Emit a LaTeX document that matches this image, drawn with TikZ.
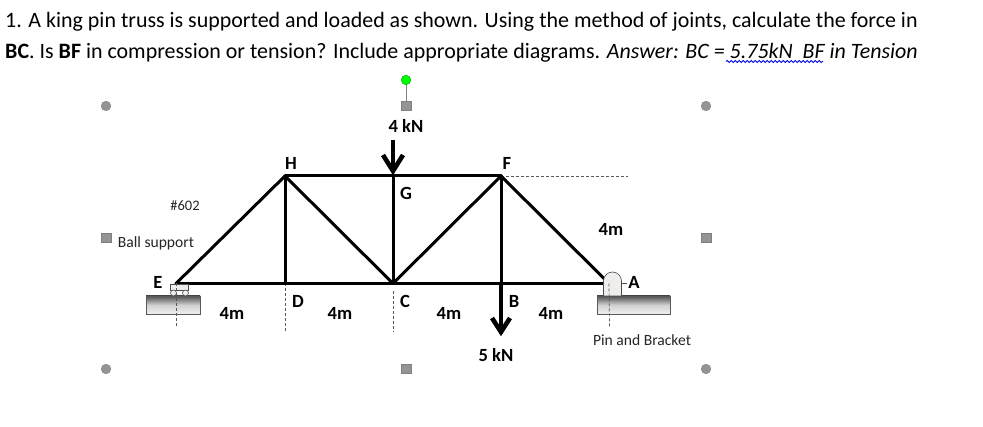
\documentclass[tikz,border=0pt]{standalone}
\usepackage{fontspec}
\setmainfont{Carlito}
\usetikzlibrary{decorations.pathmorphing}
\tikzset{
  member/.style={line width=3pt,line cap=round,line join=round},
  loadarrow/.style={line width=4.6pt,line join=miter},
  guide/.style={densely dashed,line width=0.7pt,black!65},
  handlecirc/.style={circle,fill=black!42,draw=black!50,line width=0.5pt,minimum size=9.5pt,inner sep=0pt},
  handlebox/.style={rectangle,fill=black!42,draw=black!50,line width=0.5pt,minimum size=9.5pt,inner sep=0pt},
  basebox/.style={draw=black!65,line width=0.7pt,top color=black!68,bottom color=black!6,middle color=black!18},
  partbox/.style={draw=black!70,line width=0.6pt,fill=yellow!8!black!8},
  headline/.style={anchor=base west,inner sep=0pt,font=\fontsize{21.95}{24}\selectfont},
  jointlabel/.style={inner sep=0pt,font=\fontsize{18.6}{20}\selectfont\bfseries},
  smalllabel/.style={inner sep=0pt,black!85,font=\fontsize{15.6}{17}\selectfont},
}
\begin{document}
\begin{tikzpicture}[x=1pt,y=-1pt]
\useasboundingbox[fill=white] (0,0) rectangle (983,427);
\draw node[headline] (lineone) at (5,27.5) {1. A king pin truss is supported and loaded as shown. Using the method of joints, calculate the force in};
\draw node[headline] (linetwo) at (5,58.5) {\textbf{BC}. Is \textbf{BF} in compression or tension? Include appropriate diagrams. \textit{Answer: BC = 5.75kN\ \ BF in Tension}};
\coordinate (waveL) at (726,61.5);
\coordinate (waveR) at (823,61.5);
\draw[blue!90!black,line width=0.8pt,decorate,decoration={snake,amplitude=1.1pt,segment length=4pt}] (waveL)--(waveR);
\coordinate (E) at (176,283.5);
\coordinate (D) at (285,283.5);
\coordinate (C) at (393,283.5);
\coordinate (B) at (501,283.5);
\coordinate (A) at (609,283.5);
\coordinate (H) at (285,176);
\coordinate (G) at (393,176);
\coordinate (F) at (501,176);
\coordinate (Fend) at (628,176);
\coordinate (Eend) at (176,326);
\coordinate (Dend) at (285,332);
\coordinate (Ctop) at (393,291);
\coordinate (Cend) at (393,332);
\coordinate (Aend) at (609.5,327);
\coordinate (Ascrew) at (621,283);
\coordinate (Atick) at (627,283);
\draw[guide] (F)--(Fend);
\draw[guide] (D)--(Dend);
\draw[guide] (Ctop)--(Cend);
\draw[member] (E)--(A);
\draw[member] (E)--(H);
\draw[member] (H)--(F);
\draw[member] (F)--(A);
\draw[member] (H)--(D);
\draw[member] (H)--(C);
\draw[member] (G)--(C);
\draw[member] (F)--(C);
\draw[member] (F)--(B);
\draw[basebox] (146,296) rectangle (200,314);
\draw[basebox] (597,296) rectangle (670,314);
\draw[partbox] (170,284.5) rectangle (188.5,290);
\draw[partbox] (173.5,293) circle (3);
\draw[partbox] (185.5,293) circle (3);
\draw[guide] (E)--(Eend);
\draw[partbox] (603.5,296)--(603.5,281) arc (180:360:9 and 9)--(621.5,296)--cycle;
\draw[guide] (A)--(Aend);
\draw[black!70,line width=0.6pt] (Ascrew)--(Atick);
\coordinate (topTail) at (393,140);
\coordinate (topTip) at (393,171);
\coordinate (topL) at (383,155);
\coordinate (topR) at (403,155);
\draw[loadarrow] (topTail)--(topTip);
\draw[loadarrow] (topL)--(topTip)--(topR);
\coordinate (botTip) at (501,332);
\coordinate (botL) at (492,318);
\coordinate (botR) at (510,318);
\draw[loadarrow] (B)--(botTip);
\draw[loadarrow] (botL)--(botTip)--(botR);
\draw node[handlecirc,fill=green,draw=green!70!black] (grip) at (406,80) {};
\draw node[handlebox] (nTop) at (406,106) {};
\draw[black!50,line width=0.7pt] (grip)--(nTop);
\draw node[handlecirc] (nwCorner) at (106,106) {};
\draw node[handlecirc] (neCorner) at (706,106) {};
\draw node[handlecirc] (swCorner) at (106,369) {};
\draw node[handlecirc] (seCorner) at (706,369) {};
\draw node[handlebox] (nLeft) at (106,238) {};
\draw node[handlebox] (nRight) at (706,238) {};
\draw node[handlebox] (nBot) at (406,369) {};
\draw node[jointlabel] (labE) at (158,282) {E};
\draw node[jointlabel] (labD) at (298,301) {D};
\draw node[jointlabel] (labC) at (405,301) {C};
\draw node[jointlabel] (labB) at (514,301) {B};
\draw node[jointlabel] (labA) at (634,282) {A};
\draw node[jointlabel] (labH) at (291,163) {H};
\draw node[jointlabel] (labG) at (406,193) {G};
\draw node[jointlabel] (labF) at (507,163) {F};
\draw node[jointlabel] (loadtop) at (406,126) {4 kN};
\draw node[jointlabel] (loadbot) at (496,355) {5 kN};
\draw node[jointlabel] (spanone) at (232,313) {4m};
\draw node[jointlabel] (spantwo) at (340,313) {4m};
\draw node[jointlabel] (spanthree) at (449,313) {4m};
\draw node[jointlabel] (spanfour) at (551,313) {4m};
\draw node[jointlabel] (spanright) at (611,229) {4m};
\draw node[smalllabel,font=\fontsize{14.5}{16}\selectfont] (probnum) at (185,206) {\#602};
\draw node[smalllabel] (ballsup) at (156,243) {Ball support};
\draw node[smalllabel] (pinbrk) at (642,340) {Pin and Bracket};
\end{tikzpicture}
\end{document}
